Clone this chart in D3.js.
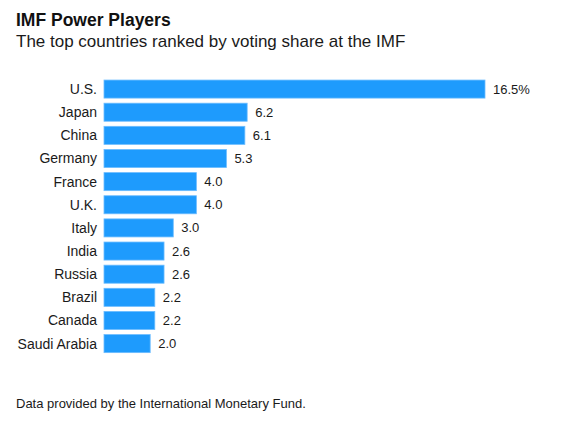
<!DOCTYPE html>
<html>
<head>
<meta charset="utf-8">
<script src="https://cdn.jsdelivr.net/npm/d3@7"></script>
<style>
  body { margin: 0; background: #fff; }
  text { font-family: "Liberation Sans", Arial, sans-serif; }
</style>
</head>
<body>
<div id="chart"></div>
<script>
const countries = ["U.S.", "Japan", "China", "Germany", "France", "U.K.", "Italy", "India", "Russia", "Brazil", "Canada", "Saudi Arabia"];
const shares = [16.5, 6.2, 6.1, 5.3, 4.0, 4.0, 3.0, 2.6, 2.6, 2.2, 2.2, 2.0];
const valueLabels = ["16.5%", "6.2", "6.1", "5.3", "4.0", "4.0", "3.0", "2.6", "2.6", "2.2", "2.2", "2.0"];

const width = 570, height = 424;
const margin = {top: 77.5, left: 104, right: 85};

const svg = d3.select("#chart")
    .append("svg")
    .attr("width", width)
    .attr("height", height);

const x = d3.scaleLinear()
    .domain([0, 16.5])
    .range([margin.left, width - margin.right]);

const y = d3.scaleBand()
    .domain(countries)
    .range([margin.top, margin.top + 23.14 * countries.length])
    .paddingInner(0.22)
    .paddingOuter(0.11);

const rows = countries.map((c, i) => ({country: c, share: shares[i], label: valueLabels[i]}));

svg.selectAll("rect")
    .data(rows)
    .enter()
    .append("rect")
        .attr("x", x(0))
        .attr("y", d => y(d.country))
        .attr("width", d => x(d.share) - x(0))
        .attr("height", y.bandwidth())
        .attr("fill", "#1e9bfd")
        .attr("stroke", "#6cbcff")
        .attr("stroke-width", 0.8);

svg.selectAll(".country")
    .data(rows)
    .enter()
    .append("text")
        .attr("class", "country")
        .attr("x", x(0) - 7)
        .attr("y", d => y(d.country) + y.bandwidth() / 2)
        .attr("dy", "0.35em")
        .attr("text-anchor", "end")
        .attr("font-size", "14px")
        .attr("fill", "#1a1a1a")
        .text(d => d.country);

svg.selectAll(".value")
    .data(rows)
    .enter()
    .append("text")
        .attr("class", "value")
        .attr("x", d => x(d.share) + 8)
        .attr("y", d => y(d.country) + y.bandwidth() / 2)
        .attr("dy", "0.35em")
        .attr("font-size", "13px")
        .attr("fill", "#1a1a1a")
        .text(d => d.label);

svg.append("text")
    .attr("x", 16)
    .attr("y", 26)
    .attr("font-size", "17.5px")
    .attr("font-weight", "bold")
    .attr("fill", "#111")
    .text("IMF Power Players");

svg.append("text")
    .attr("x", 16)
    .attr("y", 47)
    .attr("font-size", "17px")
    .attr("fill", "#1a1a1a")
    .text("The top countries ranked by voting share at the IMF");

svg.append("text")
    .attr("x", 16)
    .attr("y", 408)
    .attr("font-size", "13px")
    .attr("fill", "#1a1a1a")
    .text("Data provided by the International Monetary Fund.");
</script>
</body>
</html>
